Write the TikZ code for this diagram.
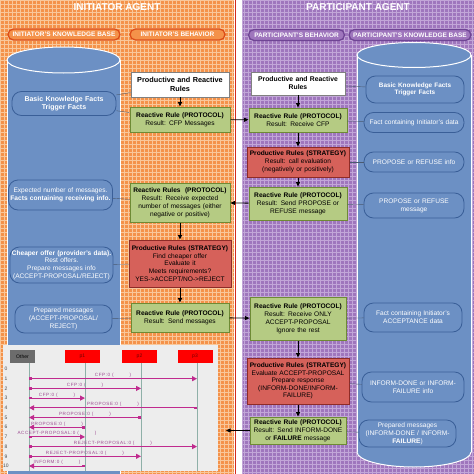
\documentclass[tikz,border=0pt]{standalone}
\usepackage{fontspec}
\setmainfont{Liberation Sans}
\newfontfamily\seqfont[LetterSpace=12]{Liberation Sans}
\usepackage{xcolor}
\usetikzlibrary{arrows.meta, positioning}

\definecolor{orangebg}{HTML}{F4924A}
\definecolor{orangegrid}{HTML}{F9C79A}
\definecolor{pillorange}{HTML}{DC4E1A}
\definecolor{purplebg}{HTML}{9F76BD}
\definecolor{purplegrid}{HTML}{C2A6D8}
\definecolor{pillpurple}{HTML}{6F4594}
\definecolor{kbblue}{HTML}{6C90C4}
\definecolor{kbedge}{HTML}{3A5F98}
\definecolor{kblinkcol}{HTML}{4A5A70}
\definecolor{protofill}{HTML}{B5CB83}
\definecolor{protoedge}{HTML}{6E8A35}
\definecolor{stratfill}{HTML}{D6615A}
\definecolor{stratedge}{HTML}{8E2B27}
\definecolor{lanered}{HTML}{D22B1E}
\definecolor{seqbg}{HTML}{EDEDED}
\definecolor{seqline}{HTML}{8FB0A8}
\definecolor{seqmag}{HTML}{C02A8E}
\definecolor{seqtext}{HTML}{9C4A90}

\newcommand{\msglabel}[1]{#1:0 (\hspace{16pt})}

\begin{document}
\begin{tikzpicture}[x=1pt, y=-1pt,
    agenttitle/.style={text=white, font=\fontsize{10}{11}\selectfont\bfseries, inner sep=0pt},
    lanepill/.style={rounded corners=5.5pt, line width=1.3pt, text=white, minimum height=11pt, inner sep=0pt, font=\fontsize{6.5}{7}\selectfont\bfseries},
    rulebox/.style={draw=gray, fill=white, line width=0.6pt, align=center, inner sep=1pt, font=\fontsize{6.8}{8}\selectfont\bfseries},
    protobox/.style={draw=protoedge, fill=protofill, line width=1pt, align=center, inner sep=1pt, font=\fontsize{6.6}{7.9}\selectfont},
    stratbox/.style={protobox, draw=stratedge, fill=stratfill},
    kbfact/.style={draw=kbedge, fill=kbblue, line width=0.8pt, rounded corners=9.5pt, text=white, align=center, inner sep=0pt, font=\fontsize{6.6}{7.8}\selectfont},
    flow/.style={-{Triangle[length=4.5pt,width=4pt]}, line width=0.9pt},
    kblink/.style={draw=kblinkcol, line width=0.4pt},
    seqhead/.style={minimum width=35pt, minimum height=13pt, inner sep=0pt, font=\fontsize{5}{5}\selectfont},
    lifeline/.style={draw=seqline, line width=0.8pt},
    msg/.style={draw=seqmag, line width=1pt, {Square[length=2.6pt,width=2.6pt]}-{Triangle[length=5pt,width=5pt]}},
    msgtext/.style={text=seqtext, font=\fontsize{4.6}{5}\seqfont, inner sep=0.6pt},
    rownum/.style={text=black!70, font=\fontsize{5}{5}\selectfont, inner sep=0pt}]
    \useasboundingbox (0,0) rectangle (474,474);

    % lanes
    \fill[orangebg] (0,0) rectangle (234,474);
    \draw[orangegrid, line width=0.5pt, step=4pt] (0,0) grid (234,474);
    \fill[purplebg] (242,0) rectangle (474,474);
    \draw[purplegrid, line width=0.5pt, step=4pt] (242,0) grid (474,474);
    \draw[purplegrid, line width=1pt] (242.5,0) -- (242.5,474);
    \draw[lanered, line width=0.8pt] (235,0) -- (235,474);

    \node[agenttitle] (ititle) at (117,7.5) {INITIATOR AGENT};
    \node[agenttitle] (ptitle) at (358,7.5) {PARTICIPANT AGENT};
    \node[lanepill, draw=pillorange, fill=orangebg, minimum width=112] (ikbpill) at (64,34.5) {INITIATOR'S KNOWLEDGE BASE};
    \node[lanepill, draw=pillorange, fill=orangebg, minimum width=95] (ibhpill) at (177.5,34.5) {INITIATOR'S BEHAVIOR};
    \node[lanepill, draw=pillpurple, fill=purplebg, minimum width=96] (pbhpill) at (296.5,35) {PARTICIPANT'S BEHAVIOR};
    \node[lanepill, draw=pillpurple, fill=purplebg, minimum width=122] (pkbpill) at (410,35) {PARTICIPANT'S KNOWLEDGE BASE};

    % knowledge bases
    \fill[kbblue] (7,60) rectangle (120,474);
    \fill[kbblue] (63.5,60) ellipse [x radius=56.5, y radius=13];
    \draw[white, line width=1pt] (63.5,60) ellipse [x radius=56.5, y radius=13];
    \draw[white, line width=1pt] (7,60) -- (7,474) (120,60) -- (120,474);

    \fill[kbblue] (357,55) rectangle (471,452);
    \fill[kbblue] (414,452) ellipse [x radius=57, y radius=15];
    \fill[kbblue] (414,55) ellipse [x radius=57, y radius=12.5];
    \draw[white, line width=1pt] (414,55) ellipse [x radius=57, y radius=12.5];
    \draw[white, line width=1pt] (357,55) -- (357,452) (471,55) -- (471,452);
    \begin{scope}
        \clip (350,452) rectangle (474,474);
        \draw[white, line width=1pt] (414,452) ellipse [x radius=57, y radius=15];
    \end{scope}

    \node[kbfact, text width=104pt, minimum height=24pt, font=\fontsize{7}{8.2}\selectfont\bfseries] (lbasic) at (64,103.5) {Basic Knowledge Facts\\Trigger Facts};
    \node[kbfact, text width=104pt, minimum height=30pt] (lexpect) at (60.5,195) {Expected number of messages.\\\textbf{Facts containing receiving info.}};
    \node[kbfact, text width=103pt, minimum height=36pt] (lcheap) at (61.5,265) {\textbf{Cheaper offer (provider's data).}\\Rest offers.\\Prepare messages info\\(ACCEPT-PROPOSAL/REJECT)};
    \node[kbfact, text width=97pt, minimum height=28pt] (lprep) at (63.5,319) {Prepared messages\\(ACCEPT-PROPOSAL/\\REJECT)};

    \node[kbfact, text width=98pt, minimum height=27pt, font=\fontsize{6.4}{7.6}\selectfont\bfseries] (rbasic) at (415,89.5) {Basic Knowledge Facts\\Trigger Facts};
    \node[kbfact, text width=100pt, minimum height=20pt] (rfact) at (414,122.5) {Fact containing Initiator's data};
    \node[kbfact, text width=100pt, minimum height=20pt] (rinfo) at (414,162) {PROPOSE or REFUSE info};
    \node[kbfact, text width=100pt, minimum height=25pt] (rmsg) at (414,205.5) {PROPOSE or REFUSE\\message};
    \node[kbfact, text width=98pt, minimum height=29pt] (raccdata) at (413,317.5) {Fact containing Initiator's\\ACCEPTANCE data};
    \node[kbfact, text width=102pt, minimum height=30pt] (rinfinfo) at (413,387) {INFORM-DONE or INFORM-\\FAILURE info};
    \node[kbfact, text width=97pt, minimum height=27pt] (rprep) at (407.5,433.5) {Prepared messages\\(INFORM-DONE / INFORM-\\\textbf{FAILURE})};

    % initiator behavior
    \node[rulebox, text width=96pt, minimum height=25pt, font=\fontsize{7.3}{8.6}\selectfont\bfseries] (lrules) at (180,84.5) {Productive and Reactive\\Rules};
    \node[protobox, text width=98pt, minimum height=25pt] (lcfp) at (180,119.5) {\textbf{Reactive Rule (PROTOCOL)}\\Result: CFP Messages};
    \node[protobox, text width=98pt, minimum height=39pt] (lrecv) at (180,202.5) {\textbf{Reactive Rules\ \ (PROTOCOL)}\\Result: Receive expected\\number of messages (either\\negative or positive)};
    \node[stratbox, text width=100pt, minimum height=47pt, font=\fontsize{6.6}{7.7}\selectfont] (lstrat) at (180,263.5) {\textbf{Productive Rules (STRATEGY)}\\Find cheaper offer\\Evaluate it\\Meets requirements?\\YES->ACCEPT/NO->REJECT};
    \node[protobox, text width=96pt, minimum height=29pt] (lsend) at (180,317.5) {\textbf{Reactive Rule (PROTOCOL)}\\Result: Send messages};

    % participant behavior
    \node[rulebox, text width=92pt, minimum height=23pt] (rrules) at (298,83.5) {Productive and Reactive\\Rules};
    \node[protobox, text width=96pt, minimum height=24pt] (rcfp) at (298,120) {\textbf{Reactive Rule (PROTOCOL)}\\Result: Receive CFP};
    \node[stratbox, text width=100pt, minimum height=30pt] (rstrat) at (298,162) {\textbf{Productive Rules (STRATEGY)}\\Result: call evaluation\\(negatively or positively)};
    \node[protobox, text width=96pt, minimum height=33pt] (rsend) at (298,203.5) {\textbf{Reactive Rule (PROTOCOL)}\\Result: Send PROPOSE or\\REFUSE message};
    \node[protobox, text width=94pt, minimum height=43pt] (raccept) at (298,318.5) {\textbf{Reactive Rule (PROTOCOL)}\\Result: Receive ONLY\\ACCEPT-PROPOSAL\\Ignore the rest};
    \node[stratbox, text width=100pt, minimum height=46pt, font=\fontsize{6.6}{7.6}\selectfont] (reval) at (298,381) {\textbf{Productive Rules (STRATEGY)}\\Evaluate ACCEPT-PROPOSAL\\Prepare response\\(INFORM-DONE/INFORM-\\FAILURE)};
    \node[protobox, text width=94pt, minimum height=27pt] (rinform) at (298,430.5) {\textbf{Reactive Rule (PROTOCOL)}\\Result: Send INFORM-DONE\\or \textbf{FAILURE} message};
    \coordinate (iend) at (226,430.5);

    % knowledge links
    \draw[kblink] (lbasic) -- (lrules);
    \draw[kblink] (lbasic) -- (lcfp);
    \draw[kblink] (lexpect) -- (lrecv);
    \draw[kblink] (lcheap) -- (lstrat);
    \draw[kblink] (lprep) -- (lsend);
    \foreach \a/\b in {rbasic/rrules, rfact/rcfp, rinfo/rstrat, rmsg/rsend, raccdata/raccept, rinfinfo/reval, rprep/rinform}
        \draw[kblink] (\a) -- (\b);

    % behavior flow
    \draw[flow] (lrules) -- (lcfp);
    \draw[flow] (lrecv) -- (lstrat);
    \draw[flow] (lstrat) -- (lsend);
    \draw[flow] (rrules) -- (rcfp);
    \draw[flow] (rcfp) -- (rstrat);
    \draw[flow] (rstrat) -- (rsend);
    \draw[flow] (raccept) -- (reval);
    \draw[flow] (reval) -- (rinform);
    \draw[flow] (lcfp) -- (rcfp);
    \draw[flow] (rsend) -- (lrecv);
    \draw[flow] (lsend) -- (raccept);
    \draw[flow] (rinform) -- (iend);

    % sequence diagram
    \fill[seqbg] (3,345) rectangle (218,471);
    \node[seqhead, fill=gray!85!black, minimum width=25pt] (other) at (22.5,356.5) {Other};
    \foreach \n/\x in {p1/82.5, p2/139.5, p3/195}
        \node[seqhead, fill=red, text=red!45!black] (\n) at (\x,356.5) {\n};
    \foreach \i/\x in {0/29, 1/85, 2/141, 3/197} {
        \draw[lifeline] (\x,363) -- (\x,471);
        \foreach \r in {0,...,10}
            \coordinate (L\i-\r) at (\x,{369+9.7*\r});
    }
    \foreach \r in {0,...,10}
        \node[rownum] (row\r) at (6,{369+9.7*\r}) {\r};
    \foreach \r/\a/\b/\t in {1/0/3/CFP, 2/0/2/CFP, 3/0/1/CFP, 4/3/0/PROPOSE, 5/2/0/PROPOSE, 6/1/0/PROPOSE,
                             7/0/1/ACCEPT-PROPOSAL, 8/0/3/REJECT-PROPOSAL, 9/0/2/REJECT-PROPOSAL, 10/1/0/INFORM}
        \draw[msg] (L\a-\r) -- (L\b-\r) node[msgtext, midway, above] {\msglabel{\t}};
\end{tikzpicture}
\end{document}
